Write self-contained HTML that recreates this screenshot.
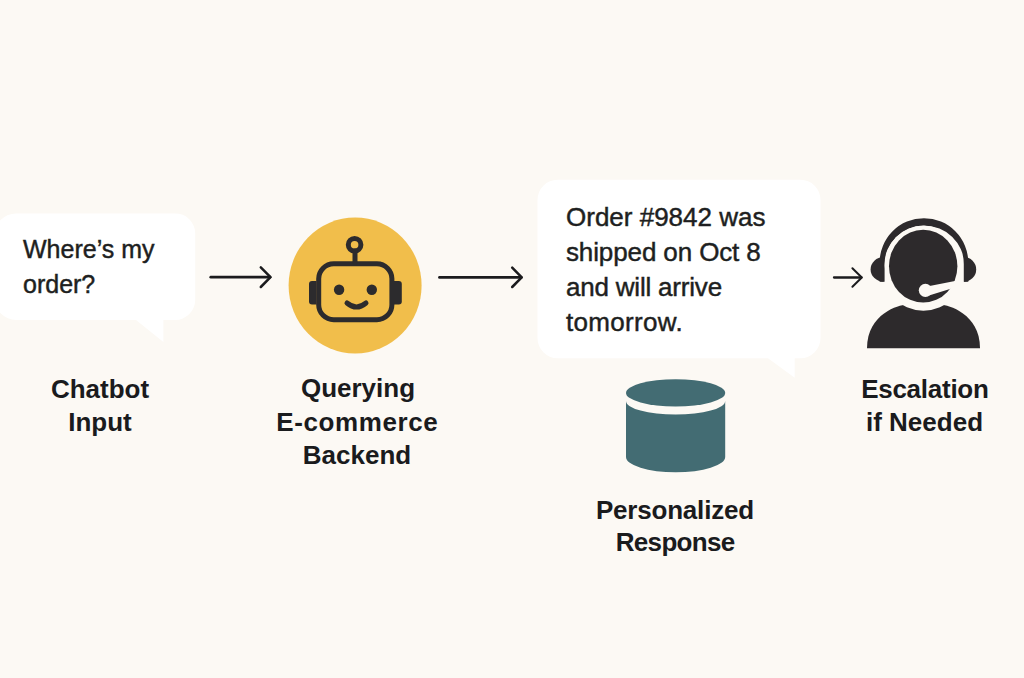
<!DOCTYPE html>
<html><head><meta charset="utf-8">
<style>
html,body{margin:0;padding:0;background:#fcf9f4;}
body{width:1024px;height:678px;overflow:hidden;position:relative;}
svg{position:absolute;left:0;top:0;}
text{font-family:"Liberation Sans",sans-serif;}
.bt{font-size:25px;fill:#1e1f21;stroke:#1e1f21;stroke-width:0.45px;}
.bt2{font-size:26px;fill:#1e1f21;stroke:#1e1f21;stroke-width:0.45px;}
.lb{font-size:26px;font-weight:bold;fill:#1a1b1d;}
</style></head><body>
<svg width="1024" height="678" viewBox="0 0 1024 678">
  <!-- bubble 1 -->
  <path fill="#ffffff" d="M-5 234.4 A21 21 0 0 1 16 213.4 H175 A20 20 0 0 1 195.2 233.4 V299.9 A20 20 0 0 1 175.2 319.9 H163.4 V342 L136 319.9 H16 A21 21 0 0 1 -5 298.9 Z"/>
  <text id="t_where" class="bt" x="23" y="257.5">Where’s my</text>
  <text id="t_order" class="bt" x="23" y="293">order?</text>
  <!-- arrows -->
  <g stroke="#1b1b1d" fill="none" stroke-linecap="round" stroke-linejoin="round">
    <path stroke-width="2.8" d="M210.8 277.2 H270"/>
    <path stroke-width="2.5" d="M260.8 267.4 L270.5 277.2 L260.8 287"/>
    <path stroke-width="2.8" d="M439.5 277.4 H521.2"/>
    <path stroke-width="2.5" d="M512.2 267.6 L521.7 277.4 L512.2 287"/>
    <path stroke-width="2.3" d="M834 277.5 H861.4"/>
    <path stroke-width="2" d="M852.4 268.3 L861.8 277.5 L852.4 286.8"/>
  </g>
  <!-- robot -->
  <ellipse cx="355.1" cy="285.5" rx="66.5" ry="68" fill="#f1be4b"/>
  <g fill="none" stroke="#2c2b2d" stroke-width="5" stroke-linecap="round">
    <rect x="318.7" y="263.8" width="73.2" height="55.9" rx="15"/>
    <circle cx="354.6" cy="244.7" r="6.3"/>
    <path d="M355 251 V262"/>
    <path d="M347 303 Q356.5 311 366 303"/>
  </g>
  <g fill="#2c2b2d">
    <path d="M316.5 281 H312 A3 3 0 0 0 309 284 V301.5 A3 3 0 0 0 312 304.5 H316.5 Z"/>
    <path d="M394 281 H398.8 A3 3 0 0 1 401.8 284 V301.5 A3 3 0 0 1 398.8 304.5 H394 Z"/>
    <circle cx="339.1" cy="289.7" r="5.2"/>
    <circle cx="371.8" cy="289.7" r="5.2"/>
  </g>
  <!-- bubble 2 -->
  <path fill="#ffffff" d="M557.5 179.8 H800.5 A20 20 0 0 1 820.5 199.8 V338.2 A20 20 0 0 1 800.5 358.2 H794.7 V377.8 L768 358.2 H557.5 A20 20 0 0 1 537.5 338.2 V199.8 A20 20 0 0 1 557.5 179.8 Z"/>
  <text id="t_o9842" class="bt2" x="566" y="226">Order #9842 was</text>
  <text id="t_shipped" textLength="194.8" lengthAdjust="spacing" class="bt2" x="566" y="261">shipped on Oct 8</text>
  <text id="t_andwill" textLength="156.1" lengthAdjust="spacing" class="bt2" x="566" y="296">and will arrive</text>
  <text id="t_tomorrow" textLength="116.7" lengthAdjust="spacing" class="bt2" x="566" y="331">tomorrow.</text>
  <!-- cylinder -->
  <g fill="#436c73">
    <ellipse cx="675.6" cy="392.9" rx="49.6" ry="13.6"/>
    <path d="M626 401 A49.6 13.6 0 0 0 725.2 401 V457 A49.6 15.3 0 0 1 626 457 Z"/>
  </g>
  <!-- agent -->
  <g fill="#2d2a2c">
    <path d="M867 348.2 C867 313.4 899.6 304.8 905.7 304.8 H941.3 C947.4 304.8 980 313.4 980 348.2 Z"/>
  </g>
  <ellipse cx="923.4" cy="266" rx="43" ry="44.7" fill="#fcf9f4"/>
  <g fill="#2d2a2c">
    <path d="M879.6 281.7 V262.7 A44.35 44.5 0 0 1 968.3 262.7 V281.7 H963.9 V264 A39.65 38.3 0 0 0 884.6 264 V281.7 Z"/>
    <path d="M883.6 257.1 A13 12.3 0 0 0 883.6 281.7 Z"/>
    <path d="M963.9 257.1 A12.3 12.3 0 0 1 963.9 281.7 Z"/>
  </g>
  <ellipse cx="923.2" cy="265.5" rx="38.5" ry="39.9" fill="#fcf9f4"/>
  <ellipse cx="923.2" cy="266.2" rx="34.2" ry="36.4" fill="#2d2a2c"/>
  <g fill="#fcf9f4">
    <circle cx="925.4" cy="290.3" r="6.6"/>
    <path d="M927 286.5 L957.5 280.5 L958 286.5 L929 295.5 Z"/>
  </g>
  <!-- labels -->
  <text id="l_chatbot" class="lb" x="100" y="397.5" text-anchor="middle">Chatbot</text>
  <text id="l_input" class="lb" x="100" y="431" text-anchor="middle">Input</text>
  <text id="l_querying" class="lb" x="358" y="397.4" text-anchor="middle">Querying</text>
  <text id="l_ecom" textLength="161.3" lengthAdjust="spacing" class="lb" x="357" y="430.6" text-anchor="middle">E-commerce</text>
  <text id="l_backend" class="lb" x="357" y="463.8" text-anchor="middle">Backend</text>
  <text id="l_personal" textLength="158.2" lengthAdjust="spacing" class="lb" x="675" y="518.6" text-anchor="middle">Personalized</text>
  <text id="l_response" textLength="119.5" lengthAdjust="spacing" class="lb" x="675.5" y="551.4" text-anchor="middle">Response</text>
  <text id="l_escal" textLength="127.7" lengthAdjust="spacing" class="lb" x="925" y="397.8" text-anchor="middle">Escalation</text>
  <text id="l_ifneed" class="lb" x="924.5" y="430.8" text-anchor="middle">if Needed</text>
</svg>
</body></html>
